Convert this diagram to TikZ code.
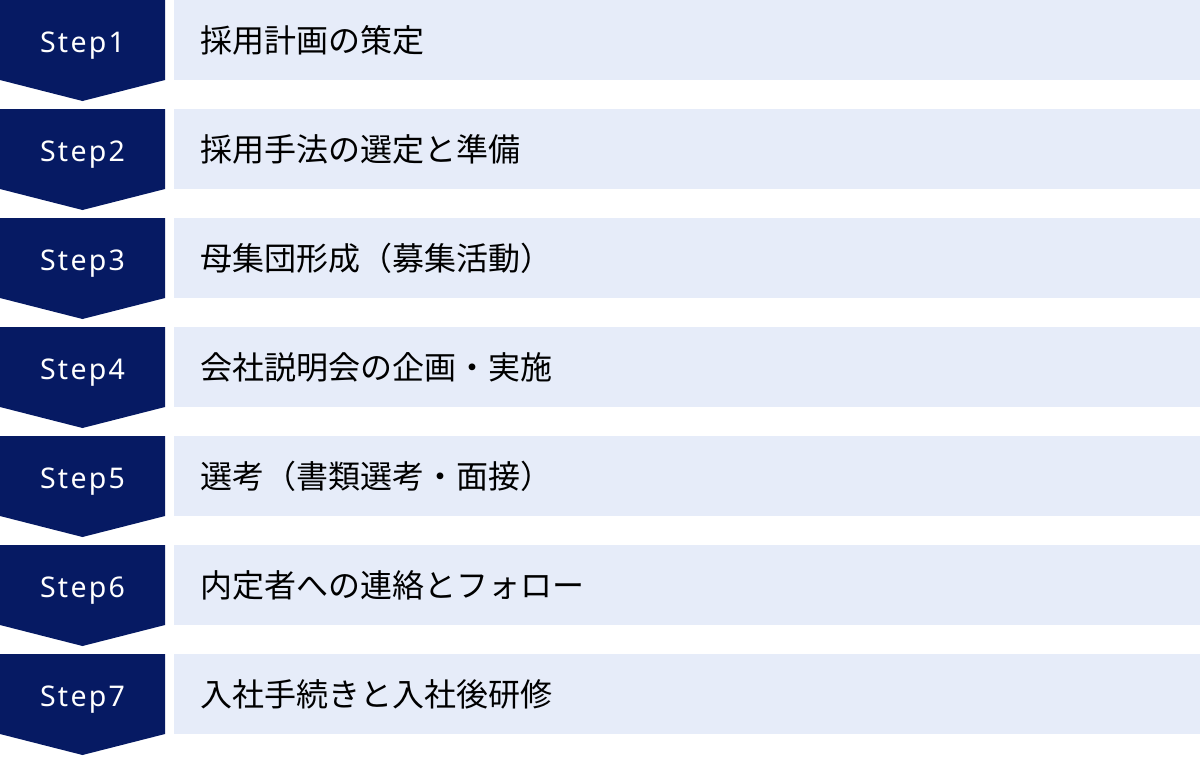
\documentclass[tikz,border=0pt]{standalone}
\usepackage{fontspec}
\newfontfamily\stepfont[LetterSpace=8]{Noto Sans}
\newfontfamily\jpfont{Noto Sans CJK JP}
\definecolor{navy}{HTML}{061A63}
\definecolor{pale}{HTML}{E6ECF9}
\tikzset{
  chev/.style={fill=navy, draw=none},
  lab/.style={font=\stepfont\fontsize{28.5}{32}\selectfont, text=white, anchor=base, inner sep=0pt},
  bar/.style={fill=pale, draw=none},
  desc/.style={font=\jpfont\fontsize{32}{36}\selectfont, text=black, anchor=base west, inner sep=0pt},
}
\begin{document}
\begin{tikzpicture}[x=1pt,y=-1pt]
\useasboundingbox (0,0) rectangle (1200,756);
\foreach \i/\t in {1/採用計画の策定,2/採用手法の選定と準備,3/母集団形成（募集活動）,4/会社説明会の企画・実施,5/選考（書類選考・面接）,6/内定者への連絡とフォロー,7/入社手続きと入社後研修}{
  \pgfmathsetmacro{\y}{(\i-1)*109}
  \fill[chev] (0,\y) -- (165,\y) -- (165,\y+80) -- (82.5,\y+101) -- (0,\y+80) -- cycle;
  \node[lab] (s\i) at (82.5,\y+52) {Step\i};
  \fill[bar] (174,\y) rectangle (1200,\y+80);
  \node[desc] (d\i) at (200,\y+52.5) {\t};
}
\end{tikzpicture}
\end{document}
